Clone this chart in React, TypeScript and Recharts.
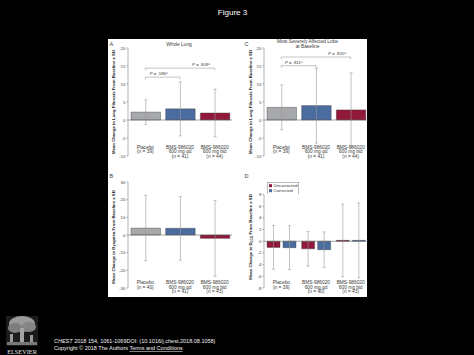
import React from "react";
import { BarChart, Bar, XAxis, YAxis, ErrorBar, Cell, ReferenceLine, Legend } from "recharts";

// categories
const GROUPS = ["Placebo", "BMS-986020 600 mg qd", "BMS-986020 600 mg bid"];
const LABELS_AC = [["Placebo", "(n = 39)"], ["BMS-986020", "600 mg qd", "(n = 41)"], ["BMS-986020", "600 mg bid", "(n = 44)"]];
const LABELS_B = [["Placebo", "(n = 40)"], ["BMS-986020", "600 mg qd", "(n = 41)"], ["BMS-986020", "600 mg bid", "(n = 43)"]];
const LABELS_D = [["Placebo", "(n = 39)"], ["BMS-986020", "600 mg qd", "(n = 40)"], ["BMS-986020", "600 mg bid", "(n = 43)"]];

// A: whole lung
const WHOLE_LUNG_MEAN = [2.2, 3.1, 1.95];
const WHOLE_LUNG_SD = [3.4, 7.5, 6.6];
// C: most severely affected lobe
const LOBE_MEAN = [3.5, 4.0, 2.8];
const LOBE_SD = [6.2, 10.4, 10.3];
// B: dyspnea
const DYSPNEA_MEAN = [3.9, 3.8, -1.9];
const DYSPNEA_SD = [18.5, 18.0, 21.5];
// D: DLCO
const DLCO_UNC_MEAN = [-1.05, -1.3, 0.15];
const DLCO_UNC_SD = [3.75, 2.95, 6.2];
const DLCO_COR_MEAN = [-1.1, -1.45, 0.15];
const DLCO_COR_SD = [3.75, 3.05, 6.4];

const TICKS_AC = [-10, -5, 0, 5, 10, 15, 20];
const TICKS_B = [-30, -20, -10, 0, 10, 20, 30];
const TICKS_D = [-8, -6, -4, -2, 0, 2, 4, 6, 8];

const BRACKETS_A = [
  { to: GROUPS[1], y: 11.9, text: ".586", dx: -4 },
  { to: GROUPS[2], y: 14.4, text: ".809", dx: 21 },
];
const BRACKETS_C = [
  { to: GROUPS[1], y: 15.1, text: ".811", dx: -5 },
  { to: GROUPS[2], y: 17.5, text: ".855", dx: 21 },
];

const LEGEND_ORDER = ["Uncorrected", "Corrected"];

const FONT = "'Liberation Sans', Arial, sans-serif";
const GRAY = "#a7a8ab";
const BLUE = "#4b6c9f";
const RED = "#93193a";
const BAR_COLORS = [GRAY, BLUE, RED];
const INK = "#3a3a3a";
const AXIS = "#666";
const WHISKER = "#9a9a9a";

function CategoryTick(props: any) {
  const { x, y, payload, lines, shift } = props;
  const rows: string[] = lines[GROUPS.indexOf(payload.value)] || [];
  return (
    <text x={x} y={y + shift} textAnchor="middle" fontSize={4.8} fill={INK} fontFamily={FONT}>
      {rows.map((r, i) => (
        <tspan key={i} x={x} dy={i === 0 ? 0 : 4.6}>{r}</tspan>
      ))}
    </text>
  );
}

function BracketLabel(props: any) {
  const { viewBox, text, dx } = props;
  if (!viewBox) return null;
  const cx = viewBox.x + (viewBox.width || 0) / 2 + dx;
  return (
    <text x={cx} y={viewBox.y - 1.8} textAnchor="middle" fontSize={4.3} fill={INK} fontFamily={FONT}>
      <tspan fontStyle="italic">P</tspan> = {text}ᵃ
    </text>
  );
}

function LegendBox(props: any) {
  const items = [...(props.payload || [])].sort(
    (a: any, b: any) => LEGEND_ORDER.indexOf(a.value) - LEGEND_ORDER.indexOf(b.value)
  );
  return (
    <svg width={32} height={12.5} style={{ display: "block" }}>
      <rect x={0.25} y={0.25} width={31.5} height={12} fill="#fff" stroke="#777" strokeWidth={0.5} />
      {items.map((it: any, i: number) => (
        <g key={it.value}>
          <rect x={2} y={2.2 + i * 5} width={3} height={3} fill={it.color} />
          <text x={6.5} y={5.1 + i * 5} fontSize={4.4} fill={INK} fontFamily={FONT}>{it.value}</text>
        </g>
      ))}
    </svg>
  );
}

function yAxisProps(domain: number[], ticks: number[]) {
  return {
    domain,
    ticks,
    interval: 0 as const,
    width: 20,
    allowDataOverflow: true,
    tickSize: 1.5,
    tickMargin: 1.2,
    tick: { fontSize: 4.3, fill: INK, fontFamily: FONT },
    axisLine: { stroke: AXIS, strokeWidth: 0.5 },
    tickLine: { stroke: AXIS, strokeWidth: 0.5 },
  };
}

function brackets(list: typeof BRACKETS_A) {
  const seg = { stroke: "#888", strokeWidth: 0.5, ifOverflow: "visible" as const };
  return list.flatMap((b, i) => [
    <ReferenceLine key={"h" + i} {...seg} segment={[{ x: GROUPS[0], y: b.y }, { x: b.to, y: b.y }]}
      label={<BracketLabel text={b.text} dx={b.dx} />} />,
    <ReferenceLine key={"l" + i} {...seg} segment={[{ x: GROUPS[0], y: b.y }, { x: GROUPS[0], y: b.y - 0.6 }]} />,
    <ReferenceLine key={"r" + i} {...seg} segment={[{ x: b.to, y: b.y }, { x: b.to, y: b.y - 0.6 }]} />,
  ]);
}

function SinglePanel({ left, top, height, mean, sd, domain, ticks, lines, shift, marginTop, extra }: any) {
  const data = GROUPS.map((g, i) => ({ group: g, mean: mean[i], sd: sd[i] }));
  return (
    <div style={{ position: "absolute", left, top }}>
      <BarChart width={130} height={height} data={data} margin={{ top: marginTop, right: 6, bottom: 0, left: 0 }} barSize={29.5}>
        <XAxis dataKey="group" axisLine={false} tickLine={false} tickSize={0} tickMargin={0} height={8} interval={0}
          tick={(p: any) => <CategoryTick {...p} lines={lines} shift={shift} />} />
        <YAxis {...yAxisProps(domain, ticks)} />
        <Bar dataKey="mean" isAnimationActive={false} stroke="#3a3a3a" strokeWidth={0.4}>
          {data.map((d, i) => <Cell key={d.group} fill={BAR_COLORS[i]} />)}
          <ErrorBar dataKey="sd" width={1.5} stroke={WHISKER} strokeWidth={0.6} />
        </Bar>
        <ReferenceLine y={0} stroke={AXIS} strokeWidth={0.6} />
        {extra}
      </BarChart>
    </div>
  );
}

function DlcoPanel() {
  const data = GROUPS.map((g, i) => ({
    group: g, unc: DLCO_UNC_MEAN[i], uncSd: DLCO_UNC_SD[i], cor: DLCO_COR_MEAN[i], corSd: DLCO_COR_SD[i],
  }));
  return (
    <div style={{ position: "absolute", left: 243.5, top: 172 }}>
      <BarChart width={130} height={124} data={data} margin={{ top: 10, right: 6, bottom: 0, left: 0 }} barSize={13} barGap={3}>
        <XAxis dataKey="group" axisLine={false} tickLine={false} tickSize={0} tickMargin={0} height={8} interval={0}
          tick={(p: any) => <CategoryTick {...p} lines={LABELS_D} shift={-3.8} />} />
        <YAxis {...yAxisProps([-8, 8], TICKS_D)} />
        <Legend layout="vertical" align="center" verticalAlign="top" content={<LegendBox />}
          wrapperStyle={{ left: 23, top: 9.6, width: 32, height: 12.5 }} />
        <Bar dataKey="unc" name="Uncorrected" fill={RED} isAnimationActive={false} stroke="#3a3a3a" strokeWidth={0.4}>
          <ErrorBar dataKey="uncSd" width={1.5} stroke={WHISKER} strokeWidth={0.6} />
        </Bar>
        <Bar dataKey="cor" name="Corrected" fill={BLUE} isAnimationActive={false} stroke="#3a3a3a" strokeWidth={0.4}>
          <ErrorBar dataKey="corSd" width={1.5} stroke={WHISKER} strokeWidth={0.6} />
        </Bar>
        <ReferenceLine y={0} stroke={AXIS} strokeWidth={0.6} />
      </BarChart>
    </div>
  );
}

function YLabel({ x, y, children }: any) {
  return (
    <text transform={`translate(${x},${y}) rotate(-90)`} textAnchor="middle" dominantBaseline="middle"
      fontSize={4.3} fontWeight="bold" fill="#222" fontFamily={FONT}>{children}</text>
  );
}

function Backdrop() {
  const small = { fontSize: 4.8, fill: INK, fontFamily: FONT, textAnchor: "middle" as const };
  return (
    <svg width={474} height={355} style={{ position: "absolute", left: 0, top: 0 }}>
      <rect x={108} y={39} width={259} height={258} fill="#fff" />
      <text x={232.5} y={15.2} textAnchor="middle" fontSize={8} fill="#fff" fontFamily={FONT}>Figure 3</text>

      <text x={109.5} y={45.5} fontSize={5.5} fill={INK} fontFamily={FONT}>A</text>
      <text x={109.5} y={178} fontSize={5.5} fill={INK} fontFamily={FONT}>B</text>
      <text x={244.5} y={45.5} fontSize={5.5} fill={INK} fontFamily={FONT}>C</text>
      <text x={244.5} y={178} fontSize={5.5} fill={INK} fontFamily={FONT}>D</text>

      <text x={179} y={46.4} {...small}>Whole Lung</text>
      <text x={307.5} y={43.4} {...small}>Most Severely Affected Lobe</text>
      <text x={307.5} y={48.4} {...small}>at Baseline</text>

      <YLabel x={113.5} y={102}>Mean Change in Lung Fibrosis From Baseline ± SD</YLabel>
      <YLabel x={251} y={102}>Mean Change in Lung Fibrosis From Baseline ± SD</YLabel>
      <YLabel x={113.5} y={237}>Mean Change in Dyspnea From Baseline ± SD</YLabel>
      <YLabel x={251} y={237}>
        Mean Change in D<tspan dy={1} fontSize={3.2}>LCO</tspan><tspan dy={-1}> From Baseline ± SD</tspan>
      </YLabel>

      {/* publisher logo */}
      <g fill="#8c8c8c">
        <rect x={6} y={316} width={32} height={30} fill="#1c1c1c" />
        <ellipse cx={22} cy={324} rx={13} ry={8} fill="#9a9a9a" />
        <ellipse cx={15} cy={328} rx={7} ry={5} fill="#7e7e7e" />
        <ellipse cx={29} cy={327} rx={7} ry={5} fill="#858585" />
        <rect x={20} y={328} width={4} height={16} fill="#a5a5a5" />
        <rect x={7} y={342} width={30} height={3} fill="#777" />
        <rect x={10} y={334} width={3} height={8} fill="#999" />
        <rect x={30} y={335} width={3} height={7} fill="#999" />
      </g>
      <text x={22} y={353.5} textAnchor="middle" fontSize={6.3} fill="#e6e6e6" fontFamily="'Liberation Serif', 'DejaVu Serif', serif">ELSEVIER</text>

      <text x={54} y={343.3} fontSize={5.5} fill="#f2f2f2" fontFamily={FONT}>
        <tspan fontStyle="italic">CHEST</tspan> 2018 154, 1061-1069DOI: (10.1016/j.chest.2018.08.1058)
      </text>
      <text x={54} y={350.3} fontSize={5.5} fill="#f2f2f2" fontFamily={FONT}>
        Copyright © 2018 The Authors <tspan textDecoration="underline" style={{ textDecoration: "underline" }}>Terms and Conditions</tspan>
      </text>
    </svg>
  );
}

export default function App() {
  return (
    <div style={{ position: "fixed", left: 0, top: 0, width: 474, height: 355, background: "#000", overflow: "hidden" }}>
      <Backdrop />
      <SinglePanel left={108} top={39} height={125} marginTop={9} mean={WHOLE_LUNG_MEAN} sd={WHOLE_LUNG_SD}
        domain={[-10, 20]} ticks={TICKS_AC} lines={LABELS_AC} shift={-7.5} extra={brackets(BRACKETS_A)} />
      <SinglePanel left={243.5} top={39} height={125} marginTop={9} mean={LOBE_MEAN} sd={LOBE_SD}
        domain={[-10, 20]} ticks={TICKS_AC} lines={LABELS_AC} shift={-7.5} extra={brackets(BRACKETS_C)} />
      <SinglePanel left={108} top={172} height={124} marginTop={10} mean={DYSPNEA_MEAN} sd={DYSPNEA_SD}
        domain={[-30, 30]} ticks={TICKS_B} lines={LABELS_B} shift={-3.8} />
      <DlcoPanel />
    </div>
  );
}
